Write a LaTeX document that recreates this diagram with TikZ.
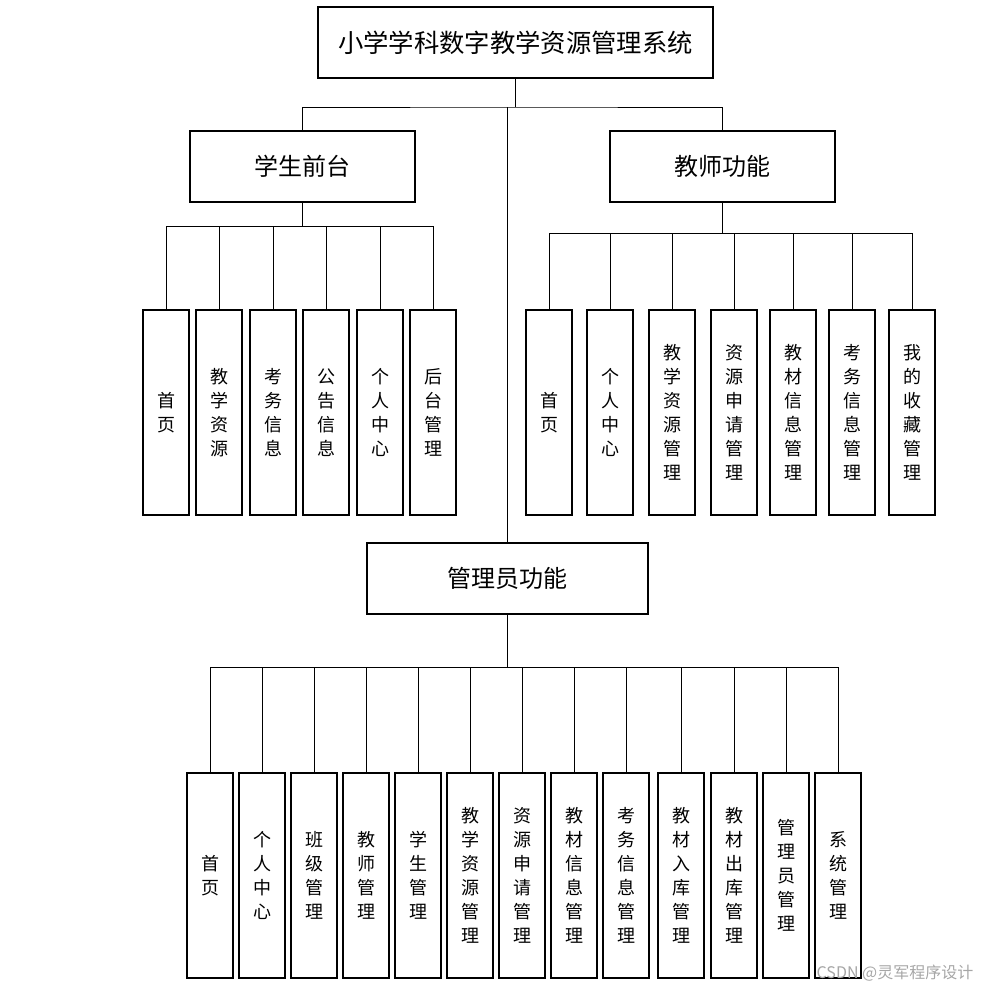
\documentclass[tikz,border=0pt]{standalone}
\usepackage{fontspec}
\newfontfamily\cjk{Noto Sans CJK SC}
\begin{document}
\begin{tikzpicture}[x=0.75pt,y=-0.75pt,
  box/.style={draw,thick,fill=white,font=\cjk,inner sep=0pt},
  top/.style={box,minimum width=296.25pt,minimum height=53.25pt,font=\cjk\fontsize{19}{22}\selectfont},
  mid/.style={box,minimum width=168.75pt,minimum height=53.25pt,font=\cjk\fontsize{18}{21}\selectfont},
  leaf/.style={box,minimum width=34.5pt,minimum height=153.75pt,align=center,font=\cjk\fontsize{13.5}{18}\selectfont},
  ln/.style={thin}]
\useasboundingbox (0,0) rectangle (992,993);
\node[top] (r) at (515.5,42.5) {小学学科数字教学资源管理系统};
\node[mid] (s) at (302.5,166.5) {学生前台};
\node[mid] (t) at (722.5,166.5) {教师功能};
\node[box,minimum width=210.75pt,minimum height=53.25pt,font=\cjk\fontsize{18}{21}\selectfont] (a) at (507.5,578.5) {管理员功能};
\coordinate (j) at (515.5,107);
\draw[ln] (r.south) -- (j);
\draw[ln] (s.north) |- (j) -| (t.north);
\draw[ln] (a.north) -- (507.5,107);
% student
\foreach \x/\n/\t in {166/s1/首\\页,219/s2/教\\学\\资\\源,273/s3/考\\务\\信\\息,326/s4/公\\告\\信\\息,380/s5/个\\人\\中\\心,433/s6/后\\台\\管\\理}{
  \node[leaf] (\n) at (\x,412.5) {\t};
  \draw[ln] (s.south) -- ++(0,24) -| (\n.north);
}
\foreach \x/\n/\t in {549/t1/首\\页,610/t2/个\\人\\中\\心,672/t3/教\\学\\资\\源\\管\\理,734/t4/资\\源\\申\\请\\管\\理,793/t5/教\\材\\信\\息\\管\\理,852/t6/考\\务\\信\\息\\管\\理,912/t7/我\\的\\收\\藏\\管\\理}{
  \node[leaf] (\n) at (\x,412.5) {\t};
  \draw[ln] (t.south) -- ++(0,31) -| (\n.north);
}
\foreach \x/\n/\t in {210/a1/首\\页,262/a2/个\\人\\中\\心,314/a3/班\\级\\管\\理,366/a4/教\\师\\管\\理,418/a5/学\\生\\管\\理,470/a6/教\\学\\资\\源\\管\\理,522/a7/资\\源\\申\\请\\管\\理,574/a8/教\\材\\信\\息\\管\\理,626/a9/考\\务\\信\\息\\管\\理,681/a10/教\\材\\入\\库\\管\\理,734/a11/教\\材\\出\\库\\管\\理,786/a12/管\\理\\员\\管\\理,838/a13/系\\统\\管\\理}{
  \node[leaf] (\n) at (\x,875.5) {\t};
  \draw[ln] (a.south) -- ++(0,53) -| (\n.north);
}
\node[font=\cjk\fontsize{12}{14}\selectfont,text=gray!70,anchor=east] (w) at (978,973) {CSDN @灵军程序设计};
\end{tikzpicture}
\end{document}
